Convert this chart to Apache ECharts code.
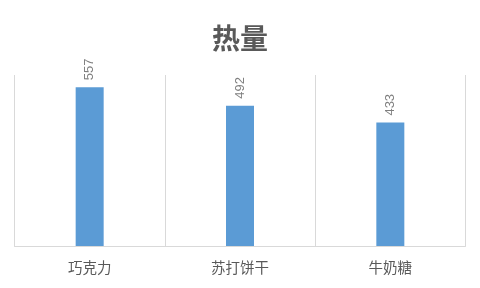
<!DOCTYPE html>
<html><head><meta charset="utf-8">
<script src="https://cdn.jsdelivr.net/npm/echarts@6/dist/echarts.min.js"></script>
<style>html,body{margin:0;padding:0;background:#fff}#c{width:480px;height:288px}</style>
</head><body><div id="c"></div>
<script>
const titleText = '热量';
const categories = ['巧克力', '苏打饼干', '牛奶糖'];
const values = [557, 492, 433];

const chart = echarts.init(document.getElementById('c'), null, {renderer: 'canvas'});
chart.setOption({
  animation: false,
  textStyle: {fontFamily: '"Noto Sans CJK SC", sans-serif'},
  title: {
    text: titleText, left: 'center', top: 19,
    textStyle: {fontSize: 28, fontWeight: 'bold', color: '#595959', fontFamily: '"Noto Sans CJK SC", sans-serif'}
  },
  grid: {left: 14.5, right: 14.5, top: 75, bottom: 42},
  xAxis: {
    type: 'category', data: categories,
    axisLine: {lineStyle: {color: '#d9d9d9'}},
    axisTick: {show: false},
    splitLine: {show: true, lineStyle: {color: '#d9d9d9'}},
    axisLabel: {color: '#595959', fontSize: 14.5, margin: 14, fontFamily: '"Noto Sans CJK SC", sans-serif'}
  },
  yAxis: {type: 'value', min: 0, max: 600, show: false, splitLine: {show: false}},
  series: [{
    type: 'bar', data: values, barWidth: 28,
    itemStyle: {color: '#5b9bd5'},
    label: {show: true, position: 'top', rotate: 90, align: 'left', verticalAlign: 'middle', distance: 7,
      color: '#7f7f7f', fontSize: 13, fontFamily: 'Arial, "Liberation Sans", sans-serif'}
  }]
});
</script></body></html>
